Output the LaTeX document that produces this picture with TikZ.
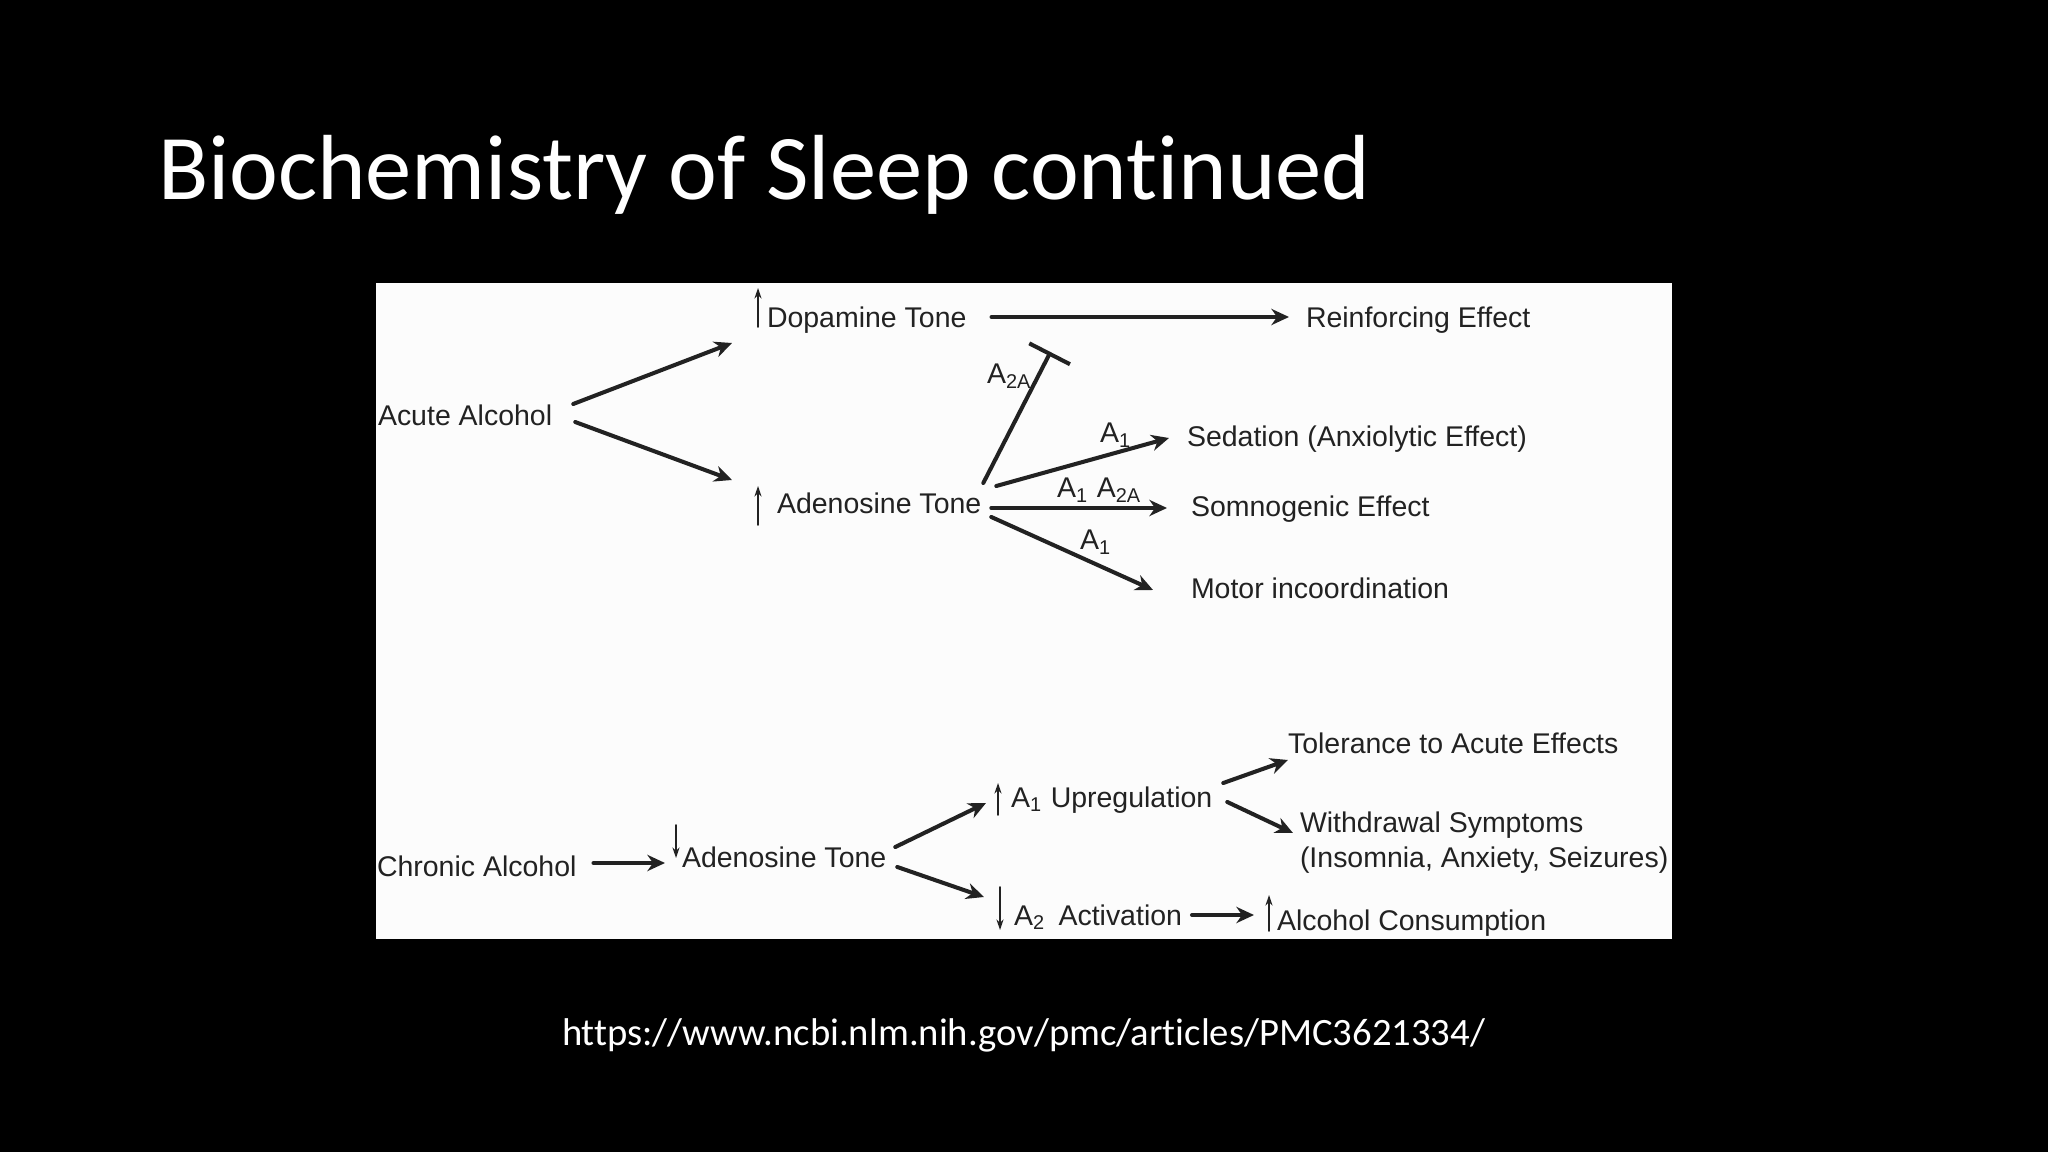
\documentclass[tikz,border=0pt]{standalone}
\usepackage{fontspec}
\setmainfont[Ligatures=NoCommon]{Carlito}
\newfontfamily\diafont{Liberation Sans}
\usetikzlibrary{arrows.meta}
\definecolor{ink}{HTML}{222222}
\definecolor{paper}{HTML}{FCFCFC}
\newcommand*\mytone[3]{%
    \draw[tone] ([shift={#2}]#1.base west) -- ([shift={#3}]#1.base west);
}

\begin{document}
\begin{tikzpicture}[x=0.01cm,y=-0.01cm,line cap=round,line join=round,
    every node/.style={inner sep=0pt,outer sep=0pt,anchor=base west},
    lbl/.style={font=\diafont\fontsize{8.1}{9.6}\selectfont,text=ink},
    eff/.style={-{Stealth[length=5pt,width=4.6pt,inset=1.6pt]},line width=1.15pt,draw=ink},
    tone/.style={-{Stealth[length=3pt,width=2pt]},line width=0.45pt,draw=ink},
    blockline/.style={-{Bar[width=13pt,line width=1.15pt]},line width=1.15pt,draw=ink}]
\useasboundingbox (0,0) rectangle (2048,1152);
\fill[black] (0,0) rectangle (2048,1152);
\fill[paper] (376,283) rectangle (1672,939);

\node[text=white,font=\fontsize{26.3}{30}\selectfont] (title) at (158,200) {Biochemistry of Sleep continued};
\node[text=white,font=\fontsize{11}{13}\selectfont] (url) at (562,1045) {https://www.ncbi.nlm.nih.gov/pmc/articles/PMC3621334/};

% acute alcohol
\node[lbl] (acute) at (378,426) {Acute Alcohol};
\node[lbl] (dopa) at (767,328) {Dopamine Tone};
\node[lbl] (adeno) at (777,514) {Adenosine Tone};
\node[lbl] (reinf) at (1306,328) {Reinforcing Effect};
\node[lbl] (sedat) at (1187,447) {Sedation (Anxiolytic Effect)};
\node[lbl] (somno) at (1191,517) {Somnogenic Effect};
\node[lbl] (motor) at (1191,598) {Motor incoordination};

\node[lbl] (rA2A) at (987,384) {A\textsubscript{2A}};
\node[lbl] (rSed) at (1100,443) {A\textsubscript{1}};
\node[lbl] (rSom) at (1057,498) {A\textsubscript{1} A\textsubscript{2A}};
\node[lbl] (rMot) at (1080,550) {A\textsubscript{1}};

\mytone{dopa}{(-9,-1)}{(-9,-40)}
\mytone{adeno}{(-19,11)}{(-19,-28)}

\draw[eff] ([shift={(21,-22)}]acute.base east) -- ([shift={(-35,15)}]dopa.base west);
\draw[eff] ([shift={(23,-4)}]acute.base east) -- ([shift={(-45,-34)}]adeno.base west);
\draw[eff] ([shift={(25,-11)}]dopa.base east) -- ([shift={(-17,-11)}]reinf.base west);
\draw[blockline] ([shift={(2,-31)}]adeno.base east) -- ([shift={(84,24)}]dopa.base east);
\draw[eff] ([shift={(15,-28)}]adeno.base east) -- ([shift={(-18,-9)}]sedat.base west);
\draw[eff] ([shift={(10,-6)}]adeno.base east) -- ([shift={(-24,-9)}]somno.base west);
\draw[eff] ([shift={(10,3)}]adeno.base east) -- ([shift={(-38,-8)}]motor.base west);

% chronic alcohol
\node[lbl] (chronic) at (377,876) {Chronic Alcohol};
\node[lbl] (adenoC) at (682,867) {Adenosine Tone};
\node[lbl] (upreg) at (1011,807) {A\textsubscript{1} Upregulation};
\node[lbl] (activ) at (1014,925) {A\textsubscript{2}\, Activation};
\node[lbl] (toler) at (1288,753) {Tolerance to Acute Effects};
\node[lbl] (withd) at (1300,832) {Withdrawal Symptoms};
\node[lbl] (withdsub) at (1300,867) {(Insomnia, Anxiety, Seizures)};
\node[lbl] (consum) at (1277,930) {Alcohol Consumption};

\mytone{adenoC}{(-6,-42)}{(-6,-9)}
\mytone{upreg}{(-13,8)}{(-13,-24)}
\mytone{activ}{(-14,-38)}{(-14,5)}
\mytone{consum}{(-8,1)}{(-8,-35)}

\draw[eff] ([shift={(17,-13)}]chronic.base east) -- ([shift={(-17,-4)}]adenoC.base west);
\draw[eff] ([shift={(9,-20)}]adenoC.base east) -- ([shift={(-25,-4)}]upreg.base west);
\draw[eff] ([shift={(11,0)}]adenoC.base east) -- ([shift={(-30,-28)}]activ.base west);
\draw[eff] ([shift={(11,-24)}]upreg.base east) -- ([shift={(0,7)}]toler.base west);
\draw[eff] ([shift={(15,-5)}]upreg.base east) -- ([shift={(-7,1)}]withd.base west);
\draw[eff] ([shift={(10,-10)}]activ.base east) -- ([shift={(-23,-15)}]consum.base west);
\end{tikzpicture}
\end{document}
